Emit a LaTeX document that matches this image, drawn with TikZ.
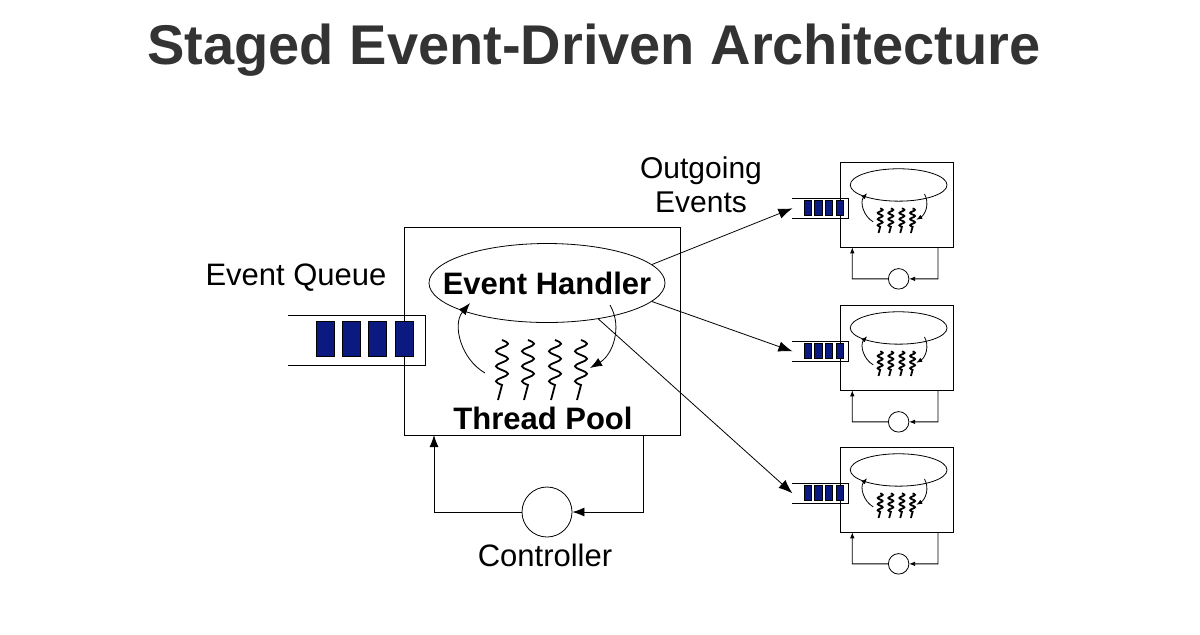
\documentclass[tikz,border=0pt]{standalone}
\usepackage{fontspec}
\setmainfont{Liberation Sans}
\usetikzlibrary{arrows.meta,shapes.geometric}
\definecolor{qblue}{HTML}{0A1A80}
\definecolor{titlegray}{HTML}{333333}
\newcommand\stagebody[2]{% #1 name prefix, #2 tip length
  \node[draw, rectangle, minimum width=138pt, minimum height=104pt, inner sep=0pt, anchor=north west] (#1box) at (0,0) {};
  \node[hnode] (#1eh) at (143,56) {};
  \draw (-116,88) -- (21,88) -- (21,138) -- (-116,138);
  \foreach \x in {-79,-53,-27,0}
    \node[qblock] at (\x,112) {};
  \foreach \x in {98,124,151,177}
    \draw[line width=0.9pt] plot[smooth, variable=\t, domain=0:45, samples=25] ({\x+6*sin(\t*24)}, {113+\t}) -- (\x-4,173);
  \node[draw, circle, minimum size=25pt, inner sep=0pt] (#1ctl) at (143,285) {};
  \draw[-{Latex[length=#2]}] (81,146) to[out=150, in=230] (66,76);
  \draw[-{Latex[length=#2]}] (206,78) to[out=-60, in=30] (186,141);
  \draw[-{Latex[length=#2]}] (239,208) -- (239,285) -- (#1ctl.east);
  \draw[-{Latex[length=#2]}] (#1ctl.west) -- (30,285) -- (30,208);
}
\begin{document}
\begin{tikzpicture}[x=0.5pt, y=-0.5pt]
  \tikzset{hnode/.style={draw, ellipse, minimum width=118pt, minimum height=39.5pt, inner sep=0pt},
           qblock/.style={fill=qblue, draw=black, minimum width=9pt, minimum height=17.5pt, inner sep=0pt},
           lbl/.style={font=\fontsize{15.5}{17}\selectfont},
           blbl/.style={font=\bfseries\fontsize{15.5}{17}\selectfont}}
  \useasboundingbox (0,0) rectangle (1200,634);
  \node[font=\bfseries\fontsize{28}{30}\selectfont, text=titlegray] (title) at (594,50) {Staged Event-Driven Architecture};
  % main stage
  \begin{scope}[shift={(404,227)}]
    \stagebody{m}{6pt}
  \end{scope}
  \node[blbl] at (547,283) {Event Handler};
  \node[blbl] (tp) at (543,418) {Thread Pool};
  \node[lbl] (eq) at (296,278) {Event Queue};
  \node[lbl] (ctl) at (545,555) {Controller};
  \node[lbl, font=\fontsize{15}{17}\selectfont, align=center] (out) at (701,185) {Outgoing\\Events};
  % downstream stages
  \foreach \n/\yy in {a/162, b/305, c/447} {
    \begin{scope}[shift={(840,\yy)}, scale=0.41, transform shape]
      \stagebody{\n}{3pt}
      \coordinate (\n in) at (-116,113);
    \end{scope}
  }
  \draw[-{Latex[length=7pt]}] (meh.10) -- (ain);
  \draw[-{Latex[length=7pt]}] (meh.-10) -- (bin);
  \draw[-{Latex[length=7pt]}] (meh.-35) -- (cin);
\end{tikzpicture}
\end{document}
